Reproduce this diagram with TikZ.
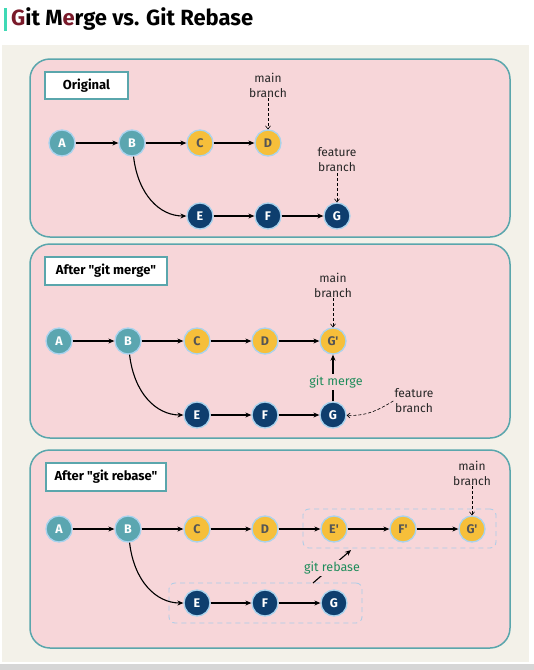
\documentclass[tikz,border=0pt]{standalone}
\usepackage{fontspec}
\setmainfont{Fira Sans}[Ligatures=TeXOff]
\usetikzlibrary{arrows.meta,shadows}
\definecolor{cream}{HTML}{F3F1E9}
\definecolor{stripc}{HTML}{D6D6D6}
\definecolor{pinkc}{HTML}{F7D6D9}
\definecolor{panelb}{HTML}{5AA6AC}
\definecolor{tealc}{HTML}{5BA6B0}
\definecolor{yelc}{HTML}{F6BF3A}
\definecolor{navyc}{HTML}{0E3E6E}
\definecolor{ringc}{HTML}{A9D3EE}
\definecolor{greenc}{HTML}{1E8C5A}
\definecolor{barc}{HTML}{3FD9B5}
\definecolor{titlered}{HTML}{7A1A2A}
\definecolor{grpc}{HTML}{A8CDE8}
\definecolor{darkt}{HTML}{555555}
\tikzset{
  commit/.style={circle, draw=ringc, line width=1.3pt, minimum size=26pt, inner sep=0pt,
    font=\bfseries\fontsize{12.5}{14}\selectfont},
  tealn/.style={commit, fill=tealc, text=white},
  yeln/.style={commit, fill=yelc, text=darkt},
  navyn/.style={commit, fill=navyc, text=white},
  conn/.style={-{Stealth[length=6pt,width=5pt]}, line width=1.1pt},
  panel/.style={draw=panelb, line width=1.5pt, fill=pinkc, rounded corners=20pt, minimum width=480pt},
  tag/.style={draw=panelb, line width=1.5pt, fill=white, font=\bfseries\fontsize{13}{15}\selectfont,
    drop shadow={shadow xshift=1.2pt, shadow yshift=-1.2pt, fill=panelb!60!black, opacity=0.5}},
  note/.style={align=center, font=\fontsize{12}{15}\selectfont, text=black!85, inner sep=1pt},
  pointer/.style={dash pattern=on 3pt off 2pt, line width=0.6pt, -{Straight Barb[length=3pt,width=5pt]}},
  grp/.style={draw=grpc, dash pattern=on 5pt off 4pt, line width=0.8pt, rounded corners=6pt},
  act/.style={text=greenc, font=\fontsize{12.5}{14}\selectfont, fill=pinkc, inner sep=1.5pt},
}
\begin{document}
\begin{tikzpicture}[x=1pt,y=-1pt]
\useasboundingbox (0,0) rectangle (534,670);
\fill[white] (0,0) rectangle (534,670);
\fill[cream] (2,45) rectangle (529,662);
\fill[stripc] (0,664) rectangle (534,670);
% title
\fill[barc] (4,8) rectangle (7,31);
\node[anchor=west, font=\bfseries\fontsize{22}{26}\selectfont, inner sep=0pt] (title) at (11,19)
  {{\color{titlered}G}it M{\color{titlered}e}rge vs. Git Rebase};
% panels
\node[panel, minimum height=178pt] (p1) at (270,148) {};
\node[panel, minimum height=194pt] (p2) at (270,341) {};
\node[panel, minimum height=198pt] (p3) at (270,549) {};
% tags
\node[tag, minimum width=83pt, minimum height=27pt] (t1) at (86.5,85.5) {Original};
\node[tag, minimum width=122pt, minimum height=28pt] (t2) at (106,271) {After "git merge"};
\node[tag, minimum width=120pt, minimum height=28pt] (t3) at (106,477) {After "git rebase"};
% ---------- panel 1 ----------
\node[tealn] (A1) at (62,143) {A};
\node[tealn] (B1) at (132,143) {B};
\node[yeln] (C1) at (200,143) {C};
\node[yeln] (D1) at (268,143) {D};
\node[navyn] (E1) at (200,216) {E};
\node[navyn] (F1) at (268,216) {F};
\node[navyn] (G1) at (337,216) {G};
\draw[conn] (A1) -- (B1);
\draw[conn] (B1) -- (C1);
\draw[conn] (C1) -- (D1);
\draw[conn] (B1) .. controls (138,195) and (160,216) .. (E1);
\draw[conn] (E1) -- (F1);
\draw[conn] (F1) -- (G1);
\node[note] (mb1) at (268,85) {main\\branch};
\node[note] (fb1) at (337,160) {feature\\branch};
\draw[pointer] (mb1) -- (D1);
\draw[pointer] (fb1) -- (G1);
% ---------- panel 2 ----------
\node[tealn] (A2) at (59,341) {A};
\node[tealn] (B2) at (128,341) {B};
\node[yeln] (C2) at (197,341) {C};
\node[yeln] (D2) at (265,341) {D};
\node[yeln] (Gp2) at (333,341) {G'};
\node[navyn] (E2) at (197,415) {E};
\node[navyn] (F2) at (265,415) {F};
\node[navyn] (G2) at (333,415) {G};
\draw[conn] (A2) -- (B2);
\draw[conn] (B2) -- (C2);
\draw[conn] (C2) -- (D2);
\draw[conn] (D2) -- (Gp2);
\draw[conn] (B2) .. controls (134,393) and (156,415) .. (E2);
\draw[conn] (E2) -- (F2);
\draw[conn] (F2) -- (G2);
\draw[conn] (G2) -- (Gp2);
\node[act] (gm) at (336,382) {git merge};
\node[note] (mb2) at (333,285) {main\\branch};
\node[note] (fb2) at (414,401) {feature\\branch};
\draw[pointer] (mb2) -- (Gp2);
\draw[pointer] (fb2.west) .. controls (378,410) and (368,416) .. (G2);
% ---------- panel 3 ----------
\node[grp, minimum width=193pt, minimum height=39pt] (g1) at (399.5,528.5) {};
\node[grp, minimum width=193pt, minimum height=40pt] (g2) at (265.5,603) {};
\node[tealn] (A3) at (59,529) {A};
\node[tealn] (B3) at (128,529) {B};
\node[yeln] (C3) at (197,529) {C};
\node[yeln] (D3) at (265,529) {D};
\node[yeln] (Ep3) at (334,529) {E'};
\node[yeln] (Fp3) at (403,529) {F'};
\node[yeln] (Gp3) at (472,529) {G'};
\node[navyn] (E3) at (197,603) {E};
\node[navyn] (F3) at (265,603) {F};
\node[navyn] (G3) at (334,603) {G};
\draw[conn] (A3) -- (B3);
\draw[conn] (B3) -- (C3);
\draw[conn] (C3) -- (D3);
\draw[conn] (D3) -- (Ep3);
\draw[conn] (Ep3) -- (Fp3);
\draw[conn] (Fp3) -- (Gp3);
\draw[conn] (B3) .. controls (134,581) and (156,603) .. (E3);
\draw[conn] (E3) -- (F3);
\draw[conn] (F3) -- (G3);
\coordinate (rb1) at (313,583);
\coordinate (rb2) at (351,550);
\draw[conn] (rb1) -- (rb2);
\node[act] (gr) at (332,568) {git rebase};
\node[note] (mb3) at (472,473) {main\\branch};
\draw[pointer] (mb3) -- (Gp3);
\end{tikzpicture}
\end{document}
